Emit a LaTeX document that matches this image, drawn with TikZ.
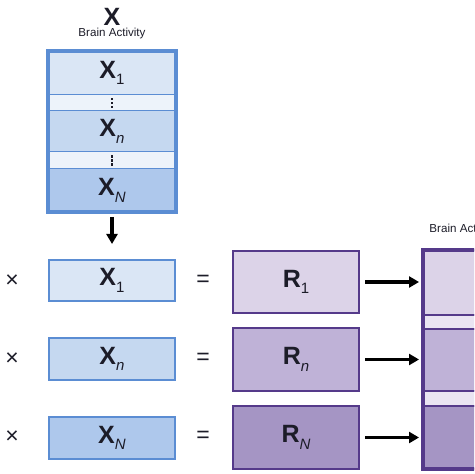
\documentclass[tikz,border=0pt]{standalone}
\usepackage{fontspec}
\setmainfont{Liberation Sans}
\usetikzlibrary{arrows.meta,positioning}
\definecolor{ink}{HTML}{1C1C28}
\definecolor{xline}{HTML}{5B8DD3}
\definecolor{xfillA}{HTML}{DAE6F5}
\definecolor{xfillB}{HTML}{C5D8F0}
\definecolor{xfillC}{HTML}{AEC8EC}
\definecolor{xgap}{HTML}{EDF3FA}
\definecolor{rline}{HTML}{553A8A}
\definecolor{rfillA}{HTML}{DCD3E8}
\definecolor{rfillB}{HTML}{BFB2D7}
\definecolor{rfillC}{HTML}{A595C4}
\definecolor{rgap}{HTML}{EAE5F2}
\newcommand{\lowsub}[1]{\raisebox{-0.5ex}{\fontsize{7.5}{8}\selectfont\mdseries #1}}
\tikzset{
  xrow/.style={
    % The shape:
    rectangle, inner sep=0pt, outer sep=0pt,
    % The size:
    minimum width=64pt,
    % The border:
    draw=xline, line width=0.5pt,
    % The text:
    text=ink, font=\fontsize{12.5}{14}\selectfont\bfseries},
  xbox/.style={xrow, minimum width=63pt, minimum height=21pt, line width=0.7pt},
  rrow/.style={
    % The shape:
    rectangle, inner sep=0pt, outer sep=0pt,
    % The size:
    minimum width=40pt,
    % The border:
    draw=rline, line width=0.6pt},
  rbox/.style={rrow, minimum width=63pt, minimum height=31.5pt, line width=1.1pt,
    text=ink, font=\fontsize{12.5}{14}\selectfont\bfseries},
  caption/.style={text=ink, inner sep=0pt, font=\fontsize{5.8}{7}\selectfont},
  sign/.style={text=ink, inner sep=0pt, font=\fontsize{11.5}{13}\selectfont},
  arr/.style={-{Triangle[length=5pt,width=5.5pt]}, line width=1.7pt, black}
}
\begin{document}
\begin{tikzpicture}[x=0.5pt,y=-0.5pt]
  \useasboundingbox (0,0) rectangle (474,474);
  \clip (0,0) rectangle (474,474);

  % Brain activity stack
  \node (title) at (112,17) [text=ink, inner sep=0pt, font=\fontsize{12.5}{14}\selectfont\bfseries] {X};
  \node (tcap) at (112,34) [caption] {Brain Activity};
  \node (s1) at (112,73) [xrow, fill=xfillA, minimum height=22pt] {X\lowsub{1}};
  \node (g1) [below=0pt of s1, xrow, fill=xgap, minimum height=8pt] {};
  \node (sn) [below=0pt of g1, xrow, fill=xfillB, minimum height=20.5pt] {X\lowsub{\itshape n}};
  \node (g2) [below=0pt of sn, xrow, fill=xgap, minimum height=8.5pt] {};
  \node (sN) [below=0pt of g2, xrow, fill=xfillC, minimum height=21.5pt] {X\lowsub{\itshape N}};
  \draw[xline, line width=1.8pt] (s1.north west) rectangle (sN.south east);
  \foreach \g in {g1,g2}
    \foreach \k in {-1,0,1}
      \fill[ink] ([shift={(-0.65pt,\k*2pt-0.65pt)}]\g.center) rectangle +(1.3pt,1.3pt);

  % single rows
  \node (x1) at (112,280.5) [xbox, fill=xfillA, minimum height=20.5pt] {X\lowsub{1}};
  \node (xn) at (112,359) [xbox, fill=xfillB] {X\lowsub{\itshape n}};
  \node (xN) at (112,438) [xbox, fill=xfillC] {X\lowsub{\itshape N}};
  \draw[arr, shorten <=2.5pt, shorten >=8pt] (sN.south) -- (x1.north);

  \node (m1) at (12,281) [sign] {×};
  \node (mn) at (12,359) [sign] {×};
  \node (mN) at (12,437) [sign] {×};
  \node (e1) at (203,281) [sign] {=};
  \node (en) at (203,359) [sign] {=};
  \node (eN) at (203,437) [sign] {=};

  % responses
  \node (R1) at (296,282) [rbox, fill=rfillA, minimum height=31pt] {R\lowsub{1}};
  \node (Rn) at (296,359.5) [rbox, fill=rfillB] {R\lowsub{\itshape n}};
  \node (RN) at (296,437.5) [rbox, fill=rfillC] {R\lowsub{\itshape N}};

  % rebuilt stack
  \node (rcap) at (463,230) [caption] {Brain Activity};
  \node (t1) at (463,282.5) [rrow, fill=rfillA, minimum height=32.5pt] {};
  \node (h1) [below=0pt of t1, rrow, fill=rgap, minimum height=7pt] {};
  \node (tn) [below=0pt of h1, rrow, fill=rfillB, minimum height=31pt] {};
  \node (h2) [below=0pt of tn, rrow, fill=rgap, minimum height=7.5pt] {};
  \node (tN) [below=0pt of h2, rrow, fill=rfillC, minimum height=31.5pt] {};
  \draw[rline, line width=1.9pt] (t1.north west) rectangle (tN.south east);

  \draw[arr, shorten <=3pt, shorten >=2pt] (R1.east) -- (t1.west |- R1.east);
  \draw[arr, shorten <=3pt, shorten >=2pt] (Rn.east) -- (tn.west |- Rn.east);
  \draw[arr, shorten <=3pt, shorten >=2pt] (RN.east) -- (tN.west |- RN.east);
\end{tikzpicture}
\end{document}
